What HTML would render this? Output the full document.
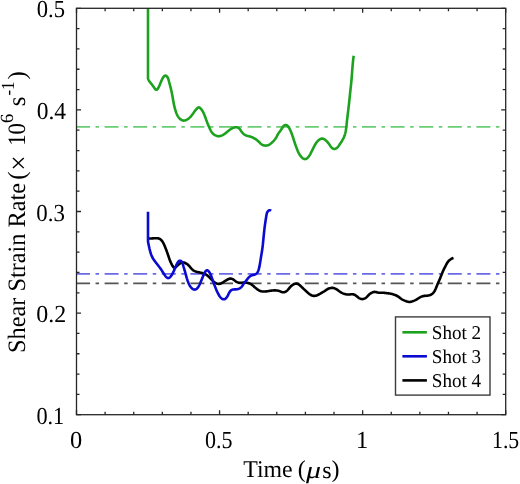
<!DOCTYPE html>
<html><head><meta charset="utf-8"><style>
html,body{margin:0;padding:0;background:#fff;overflow:hidden}
svg{display:block}
text{font-family:"Liberation Serif","Times New Roman",serif;fill:#000;text-rendering:geometricPrecision}
</style></head><body>
<svg width="520" height="484" viewBox="0 0 520 484"><rect width="520" height="484" fill="#fff"/><path d="M76.0,126.8H505.7" stroke="#6acd74" stroke-width="1.8" stroke-dasharray="14 5.55 3.5 5.55" fill="none"/><path d="M76.0,273.9H505.7" stroke="#6a6ae6" stroke-width="1.8" stroke-dasharray="14 5.55 3.5 5.55" fill="none"/><path d="M76.0,283.4H505.7" stroke="#555" stroke-width="1.8" stroke-dasharray="14 5.55 3.5 5.55" fill="none"/><path d="M148.0,8.3L148.0,78.5L148.00,78.50L148.21,79.06 148.44,79.59 148.69,80.09 148.95,80.57 149.23,81.03 149.53,81.47 149.83,81.90 150.15,82.33 150.47,82.75 150.81,83.17 151.16,83.60 151.51,84.04 151.87,84.49 152.24,84.95 152.61,85.44 152.98,85.95 153.36,86.48 153.74,87.05 154.12,87.62 154.49,88.16 154.87,88.67 155.25,89.11 155.62,89.46 155.99,89.70 156.35,89.80 156.71,89.74 157.06,89.54 157.41,89.22 157.74,88.80 158.06,88.31 158.37,87.76 158.67,87.18 158.95,86.60 159.21,86.03 159.47,85.46 159.71,84.91 159.94,84.36 160.17,83.81 160.39,83.27 160.61,82.74 160.83,82.20 161.06,81.66 161.29,81.12 161.52,80.58 161.76,80.05 162.01,79.52 162.27,79.00 162.54,78.50 162.82,78.01 163.11,77.54 163.41,77.09 163.73,76.68 164.06,76.31 164.40,76.00 164.75,75.77 165.11,75.64 165.47,75.60 165.84,75.68 166.20,75.86 166.56,76.12 166.90,76.45 167.22,76.83 167.51,77.26 167.78,77.71 168.01,78.19 168.21,78.68 168.39,79.20 168.56,79.73 168.71,80.28 168.86,80.85 169.01,81.42 169.15,82.02 169.31,82.62 169.47,83.24 169.63,83.87 169.80,84.50 169.96,85.14 170.13,85.79 170.30,86.43 170.47,87.09 170.63,87.74 170.80,88.39 170.96,89.04 171.11,89.69 171.27,90.35 171.42,91.00 171.56,91.67 171.71,92.33 171.85,93.01 171.99,93.69 172.12,94.39 172.25,95.09 172.38,95.81 172.51,96.54 172.64,97.27 172.76,98.02 172.89,98.77 173.02,99.53 173.15,100.29 173.28,101.05 173.42,101.82 173.56,102.59 173.71,103.36 173.87,104.12 174.03,104.89 174.20,105.65 174.37,106.40 174.55,107.15 174.74,107.89 174.93,108.61 175.13,109.33 175.34,110.03 175.55,110.72 175.77,111.40 175.99,112.06 176.22,112.70 176.46,113.32 176.71,113.92 176.97,114.50 177.24,115.06 177.52,115.61 177.81,116.13 178.12,116.63 178.44,117.10 178.78,117.56 179.13,117.99 179.49,118.39 179.87,118.76 180.25,119.11 180.65,119.42 181.05,119.70 181.45,119.95 181.86,120.16 182.28,120.33 182.70,120.46 183.13,120.55 183.57,120.60 184.01,120.60 184.47,120.56 184.93,120.47 185.40,120.34 185.87,120.17 186.33,119.97 186.80,119.74 187.26,119.48 187.72,119.20 188.17,118.89 188.61,118.55 189.05,118.19 189.48,117.81 189.90,117.41 190.32,116.98 190.73,116.52 191.14,116.05 191.55,115.55 191.95,115.03 192.35,114.51 192.74,113.97 193.13,113.43 193.51,112.90 193.88,112.37 194.25,111.85 194.61,111.35 194.97,110.87 195.32,110.42 195.67,109.99 196.00,109.58 196.33,109.21 196.66,108.85 196.97,108.52 197.28,108.22 197.58,107.94 197.88,107.71 198.18,107.53 198.49,107.42 198.82,107.39 199.17,107.47 199.55,107.63 199.93,107.89 200.33,108.21 200.73,108.60 201.12,109.03 201.51,109.51 201.88,110.01 202.23,110.53 202.56,111.07 202.88,111.63 203.18,112.21 203.47,112.80 203.75,113.40 204.02,114.02 204.29,114.65 204.54,115.30 204.80,115.96 205.05,116.63 205.31,117.31 205.56,117.99 205.81,118.68 206.06,119.37 206.30,120.06 206.55,120.74 206.80,121.42 207.05,122.09 207.30,122.75 207.56,123.40 207.81,124.04 208.07,124.66 208.33,125.28 208.59,125.89 208.85,126.49 209.12,127.08 209.38,127.68 209.66,128.27 209.93,128.85 210.21,129.44 210.50,130.03 210.79,130.61 211.10,131.18 211.43,131.73 211.78,132.27 212.15,132.78 212.55,133.26 212.98,133.71 213.45,134.12 213.95,134.49 214.47,134.83 215.01,135.13 215.54,135.39 216.06,135.61 216.55,135.81 217.00,135.97 217.41,136.10 217.76,136.21 218.07,136.28 218.38,136.32 218.69,136.32 219.05,136.29 219.45,136.23 219.91,136.12 220.41,135.99 220.94,135.81 221.49,135.61 222.05,135.37 222.62,135.11 223.18,134.81 223.74,134.48 224.28,134.13 224.81,133.76 225.33,133.38 225.84,132.98 226.34,132.57 226.84,132.16 227.33,131.75 227.81,131.34 228.30,130.94 228.78,130.55 229.26,130.17 229.74,129.81 230.22,129.46 230.69,129.14 231.18,128.83 231.66,128.54 232.15,128.28 232.64,128.04 233.13,127.82 233.63,127.64 234.13,127.48 234.62,127.36 235.11,127.27 235.59,127.22 236.06,127.20 236.53,127.22 236.98,127.29 237.42,127.40 237.85,127.55 238.26,127.76 238.66,128.01 239.04,128.32 239.41,128.68 239.76,129.08 240.10,129.52 240.44,129.98 240.77,130.46 241.11,130.94 241.45,131.43 241.80,131.90 242.16,132.36 242.54,132.80 242.92,133.22 243.31,133.61 243.71,133.97 244.12,134.31 244.54,134.61 244.97,134.88 245.40,135.12 245.84,135.32 246.28,135.50 246.74,135.66 247.20,135.80 247.67,135.93 248.15,136.06 248.64,136.19 249.14,136.32 249.65,136.46 250.17,136.61 250.68,136.77 251.20,136.94 251.72,137.13 252.24,137.33 252.75,137.55 253.26,137.79 253.76,138.05 254.26,138.32 254.75,138.61 255.23,138.91 255.70,139.23 256.17,139.56 256.62,139.89 257.07,140.24 257.50,140.60 257.93,140.96 258.34,141.32 258.74,141.69 259.13,142.05 259.50,142.41 259.87,142.77 260.22,143.11 260.56,143.45 260.90,143.77 261.25,144.07 261.61,144.36 261.99,144.62 262.39,144.85 262.81,145.05 263.26,145.22 263.72,145.36 264.19,145.46 264.68,145.54 265.16,145.59 265.65,145.60 266.13,145.58 266.61,145.53 267.08,145.45 267.54,145.33 268.00,145.19 268.45,145.01 268.90,144.80 269.33,144.56 269.76,144.30 270.19,144.00 270.60,143.69 271.02,143.35 271.43,143.00 271.85,142.63 272.26,142.25 272.67,141.86 273.08,141.46 273.48,141.05 273.88,140.63 274.26,140.20 274.64,139.75 275.00,139.29 275.35,138.82 275.68,138.33 275.98,137.83 276.28,137.32 276.57,136.80 276.85,136.28 277.13,135.75 277.41,135.22 277.70,134.69 278.00,134.17 278.31,133.65 278.64,133.14 278.98,132.64 279.33,132.14 279.68,131.65 280.04,131.15 280.39,130.66 280.74,130.17 281.08,129.67 281.41,129.18 281.74,128.68 282.05,128.19 282.37,127.72 282.68,127.26 282.99,126.83 283.31,126.42 283.64,126.06 283.98,125.74 284.32,125.47 284.68,125.25 285.04,125.10 285.41,125.01 285.78,124.99 286.15,125.05 286.53,125.19 286.90,125.40 287.27,125.67 287.63,126.00 287.99,126.39 288.35,126.83 288.69,127.31 289.03,127.83 289.36,128.38 289.68,128.97 289.99,129.58 290.29,130.21 290.59,130.86 290.87,131.53 291.15,132.20 291.42,132.88 291.68,133.57 291.93,134.25 292.17,134.93 292.41,135.62 292.64,136.31 292.87,137.00 293.10,137.70 293.33,138.41 293.56,139.12 293.79,139.84 294.02,140.57 294.26,141.30 294.51,142.05 294.75,142.80 295.01,143.55 295.26,144.31 295.52,145.07 295.79,145.83 296.06,146.58 296.33,147.33 296.61,148.07 296.89,148.80 297.17,149.52 297.46,150.23 297.75,150.93 298.05,151.60 298.35,152.27 298.67,152.92 299.00,153.55 299.35,154.16 299.71,154.76 300.09,155.34 300.49,155.89 300.91,156.43 301.35,156.95 301.81,157.43 302.29,157.86 302.78,158.25 303.28,158.58 303.78,158.83 304.29,159.01 304.79,159.09 305.28,159.08 305.77,158.97 306.25,158.78 306.71,158.51 307.15,158.18 307.58,157.80 307.99,157.39 308.38,156.95 308.75,156.49 309.09,156.02 309.41,155.54 309.72,155.05 310.02,154.55 310.31,154.03 310.59,153.50 310.87,152.95 311.15,152.39 311.44,151.82 311.73,151.23 312.03,150.63 312.32,150.03 312.62,149.42 312.92,148.82 313.22,148.22 313.52,147.63 313.81,147.06 314.10,146.49 314.39,145.95 314.68,145.43 314.96,144.92 315.25,144.43 315.54,143.95 315.84,143.49 316.14,143.04 316.46,142.60 316.78,142.16 317.12,141.74 317.47,141.33 317.84,140.93 318.21,140.56 318.60,140.20 318.99,139.87 319.39,139.57 319.80,139.31 320.22,139.07 320.65,138.88 321.08,138.73 321.52,138.63 321.96,138.59 322.41,138.60 322.85,138.67 323.30,138.81 323.75,138.99 324.20,139.22 324.64,139.49 325.08,139.80 325.52,140.15 325.95,140.52 326.37,140.91 326.78,141.32 327.18,141.74 327.57,142.18 327.95,142.63 328.31,143.08 328.66,143.54 328.99,143.99 329.31,144.44 329.61,144.89 329.91,145.33 330.20,145.76 330.50,146.18 330.80,146.59 331.12,146.99 331.47,147.37 331.83,147.74 332.21,148.08 332.62,148.38 333.03,148.63 333.46,148.83 333.90,148.95 334.35,149.00 334.80,148.96 335.25,148.85 335.69,148.67 336.12,148.43 336.54,148.15 336.94,147.83 337.32,147.49 337.67,147.13 337.99,146.75 338.30,146.37 338.60,145.97 338.89,145.56 339.18,145.13 339.47,144.70 339.76,144.26 340.06,143.81 340.37,143.35 340.68,142.89 340.99,142.41 341.30,141.93 341.62,141.44 341.93,140.95 342.23,140.45 342.53,139.94 342.83,139.42 343.11,138.90 343.39,138.36 343.65,137.81 343.91,137.25 344.15,136.68 344.39,136.09 344.60,135.49 344.81,134.87 345.00,134.23 345.18,133.58 345.34,132.92 345.49,132.26 345.64,131.59 345.77,130.92 345.89,130.24 346.00,129.58 346.10,128.91 346.19,128.26 346.28,127.61 346.35,126.97 346.43,126.33 346.50,125.69 346.56,125.06 346.63,124.42 346.69,123.78 346.76,123.13 346.82,122.48 346.89,121.82 346.96,121.15 347.03,120.48 347.11,119.80 347.18,119.11 347.26,118.41 347.34,117.70 347.43,116.99 347.51,116.27 347.60,115.54 347.68,114.80 347.77,114.05 347.86,113.30 347.95,112.55 348.05,111.80 348.14,111.04 348.23,110.29 348.32,109.55 348.41,108.81 348.50,108.07 348.58,107.35 348.67,106.64 348.75,105.94 348.83,105.24 348.91,104.55 348.98,103.87 349.06,103.18 349.13,102.50 349.21,101.81 349.28,101.12 349.36,100.42 349.43,99.71 349.50,98.99 349.58,98.26 349.65,97.52 349.73,96.77 349.81,96.01 349.89,95.25 349.97,94.47 350.05,93.69 350.13,92.90 350.21,92.11 350.30,91.31 350.39,90.50 350.48,89.69 350.57,88.87 350.66,88.05 350.75,87.23 350.84,86.40 350.93,85.57 351.02,84.73 351.11,83.89 351.20,83.05 351.28,82.21 351.37,81.36 351.44,80.52 351.52,79.67 351.59,78.83 351.66,77.98 351.73,77.14 351.79,76.30 351.85,75.46 351.91,74.63 351.97,73.81 352.03,72.99 352.09,72.17 352.15,71.37 352.21,70.57 352.27,69.78 352.33,69.00 352.39,68.24 352.45,67.48 352.51,66.72 352.57,65.98 352.64,65.24 352.70,64.52 352.77,63.80 352.83,63.09 352.90,62.38 352.97,61.69 353.04,60.99 353.12,60.31 353.19,59.63 353.27,58.96 353.35,58.30 353.44,57.64 353.52,56.99 353.61,56.34 353.70,55.70" fill="none" stroke="#1ca21e" stroke-width="2.6" stroke-linejoin="round"/><path d="M148.00,238.30L148.60,238.38 149.22,238.43 149.84,238.46 150.48,238.46 151.12,238.45 151.76,238.43 152.41,238.39 153.05,238.36 153.68,238.31 154.31,238.27 154.92,238.24 155.52,238.21 156.11,238.20 156.67,238.20 157.21,238.23 157.74,238.28 158.25,238.36 158.74,238.49 159.22,238.67 159.69,238.89 160.14,239.17 160.58,239.49 161.00,239.85 161.40,240.25 161.78,240.67 162.13,241.12 162.46,241.58 162.78,242.08 163.08,242.59 163.37,243.13 163.65,243.69 163.93,244.27 164.21,244.88 164.48,245.50 164.76,246.15 165.03,246.81 165.30,247.48 165.57,248.16 165.84,248.85 166.11,249.54 166.37,250.24 166.63,250.94 166.89,251.64 167.15,252.35 167.40,253.06 167.65,253.78 167.90,254.51 168.14,255.23 168.39,255.96 168.63,256.69 168.87,257.42 169.11,258.14 169.35,258.85 169.60,259.54 169.85,260.22 170.11,260.88 170.38,261.52 170.65,262.14 170.93,262.75 171.22,263.35 171.51,263.95 171.82,264.55 172.13,265.15 172.45,265.75 172.78,266.33 173.13,266.84 173.49,267.27 173.88,267.56 174.30,267.70 174.75,267.66 175.21,267.46 175.69,267.15 176.18,266.75 176.66,266.31 177.14,265.86 177.59,265.43 178.03,265.04 178.46,264.67 178.88,264.32 179.29,263.99 179.71,263.67 180.13,263.36 180.56,263.08 181.00,262.82 181.47,262.61 181.95,262.46 182.45,262.39 182.98,262.39 183.52,262.46 184.07,262.59 184.63,262.77 185.18,263.00 185.71,263.26 186.24,263.55 186.74,263.87 187.24,264.22 187.72,264.60 188.20,265.01 188.67,265.46 189.14,265.95 189.60,266.47 190.06,267.01 190.53,267.56 190.99,268.10 191.45,268.63 191.92,269.13 192.38,269.58 192.85,269.99 193.33,270.35 193.83,270.66 194.34,270.94 194.87,271.19 195.43,271.40 196.02,271.60 196.64,271.78 197.28,271.95 197.93,272.11 198.59,272.25 199.25,272.39 199.90,272.52 200.52,272.65 201.13,272.78 201.72,272.91 202.29,273.05 202.85,273.21 203.40,273.38 203.95,273.58 204.50,273.80 205.04,274.06 205.59,274.34 206.12,274.65 206.66,274.99 207.18,275.37 207.69,275.78 208.19,276.21 208.68,276.68 209.17,277.16 209.65,277.66 210.12,278.17 210.60,278.67 211.08,279.17 211.56,279.66 212.04,280.13 212.53,280.59 213.03,281.03 213.53,281.45 214.04,281.85 214.57,282.24 215.10,282.60 215.64,282.93 216.19,283.23 216.74,283.49 217.30,283.69 217.86,283.83 218.43,283.90 218.99,283.90 219.56,283.83 220.12,283.69 220.69,283.50 221.25,283.27 221.82,283.00 222.38,282.69 222.95,282.36 223.52,282.02 224.09,281.65 224.66,281.28 225.24,280.91 225.82,280.54 226.41,280.17 226.99,279.82 227.59,279.50 228.17,279.21 228.76,278.96 229.34,278.77 229.91,278.64 230.46,278.58 231.01,278.61 231.54,278.70 232.06,278.87 232.57,279.09 233.08,279.36 233.58,279.68 234.07,280.04 234.56,280.42 235.05,280.81 235.55,281.19 236.04,281.55 236.55,281.87 237.06,282.14 237.58,282.36 238.11,282.53 238.66,282.66 239.21,282.75 239.78,282.79 240.37,282.81 240.97,282.79 241.57,282.76 242.19,282.71 242.82,282.66 243.45,282.62 244.08,282.60 244.71,282.60 245.34,282.62 245.96,282.66 246.58,282.73 247.18,282.82 247.77,282.93 248.35,283.06 248.90,283.22 249.44,283.40 249.97,283.61 250.49,283.86 250.99,284.14 251.49,284.46 251.99,284.83 252.48,285.22 252.96,285.64 253.45,286.08 253.93,286.52 254.42,286.96 254.91,287.39 255.40,287.81 255.90,288.21 256.39,288.59 256.88,288.96 257.38,289.31 257.86,289.64 258.35,289.96 258.83,290.26 259.32,290.54 259.83,290.79 260.36,291.01 260.94,291.19 261.55,291.33 262.22,291.43 262.92,291.48 263.64,291.50 264.38,291.50 265.12,291.46 265.85,291.41 266.56,291.34 267.24,291.26 267.88,291.17 268.49,291.07 269.07,290.98 269.65,290.88 270.21,290.79 270.78,290.70 271.35,290.63 271.93,290.56 272.52,290.50 273.11,290.46 273.71,290.42 274.31,290.40 274.92,290.40 275.53,290.41 276.14,290.44 276.75,290.49 277.34,290.57 277.93,290.67 278.50,290.80 279.05,290.96 279.58,291.14 280.10,291.34 280.60,291.54 281.08,291.74 281.55,291.92 282.00,292.08 282.45,292.20 282.90,292.29 283.36,292.32 283.83,292.30 284.33,292.20 284.84,292.04 285.36,291.82 285.87,291.54 286.38,291.20 286.88,290.82 287.35,290.39 287.80,289.92 288.24,289.43 288.67,288.92 289.09,288.40 289.51,287.89 289.93,287.39 290.35,286.91 290.79,286.45 291.23,286.02 291.69,285.62 292.17,285.24 292.66,284.88 293.17,284.56 293.71,284.26 294.26,283.99 294.83,283.78 295.41,283.64 295.99,283.57 296.57,283.58 297.14,283.70 297.71,283.90 298.27,284.18 298.81,284.52 299.35,284.91 299.86,285.33 300.37,285.77 300.85,286.21 301.32,286.66 301.77,287.10 302.22,287.54 302.66,287.98 303.10,288.41 303.54,288.83 303.98,289.25 304.43,289.66 304.88,290.06 305.34,290.46 305.80,290.87 306.25,291.28 306.71,291.69 307.17,292.12 307.63,292.55 308.09,292.96 308.55,293.37 309.02,293.76 309.49,294.12 309.98,294.45 310.46,294.75 310.94,295.02 311.42,295.25 311.87,295.44 312.31,295.60 312.73,295.73 313.13,295.82 313.54,295.88 313.96,295.90 314.41,295.89 314.90,295.84 315.41,295.76 315.95,295.64 316.50,295.48 317.06,295.29 317.63,295.06 318.19,294.80 318.75,294.52 319.31,294.21 319.87,293.89 320.43,293.55 321.00,293.22 321.56,292.89 322.13,292.56 322.69,292.23 323.25,291.90 323.80,291.57 324.33,291.24 324.85,290.90 325.34,290.56 325.83,290.22 326.30,289.88 326.78,289.56 327.26,289.25 327.77,288.96 328.30,288.71 328.85,288.49 329.42,288.31 330.00,288.16 330.56,288.04 331.09,287.95 331.59,287.89 332.04,287.86 332.47,287.86 332.88,287.89 333.29,287.96 333.73,288.06 334.19,288.19 334.67,288.36 335.16,288.57 335.65,288.80 336.15,289.07 336.63,289.36 337.11,289.68 337.58,290.01 338.05,290.36 338.53,290.71 339.00,291.06 339.48,291.40 339.97,291.73 340.46,292.05 340.95,292.36 341.45,292.65 341.95,292.92 342.45,293.17 342.95,293.40 343.46,293.61 343.97,293.80 344.49,293.97 345.03,294.11 345.58,294.24 346.14,294.34 346.72,294.43 347.31,294.49 347.91,294.52 348.52,294.53 349.13,294.50 349.74,294.45 350.36,294.39 350.97,294.32 351.57,294.27 352.17,294.24 352.74,294.26 353.30,294.34 353.84,294.48 354.37,294.68 354.87,294.93 355.36,295.22 355.85,295.54 356.32,295.89 356.78,296.26 357.24,296.63 357.71,297.01 358.17,297.38 358.64,297.73 359.12,298.05 359.62,298.34 360.12,298.60 360.64,298.80 361.17,298.96 361.70,299.06 362.24,299.10 362.79,299.07 363.33,298.98 363.87,298.84 364.39,298.64 364.90,298.40 365.37,298.12 365.82,297.80 366.25,297.46 366.65,297.09 367.04,296.70 367.42,296.30 367.80,295.90 368.18,295.50 368.56,295.10 368.95,294.72 369.33,294.36 369.72,294.03 370.09,293.73 370.47,293.47 370.84,293.24 371.23,293.03 371.63,292.83 372.06,292.63 372.51,292.42 372.98,292.23 373.47,292.07 373.98,291.96 374.51,291.90 375.05,291.92 375.60,292.01 376.16,292.13 376.73,292.28 377.30,292.43 377.87,292.56 378.45,292.65 379.03,292.70 379.61,292.72 380.20,292.72 380.79,292.71 381.40,292.70 382.01,292.70 382.64,292.72 383.27,292.76 383.92,292.82 384.57,292.88 385.23,292.95 385.90,293.03 386.56,293.11 387.23,293.19 387.90,293.27 388.56,293.35 389.22,293.44 389.87,293.54 390.51,293.66 391.14,293.79 391.76,293.93 392.36,294.10 392.95,294.27 393.52,294.46 394.09,294.66 394.64,294.86 395.18,295.07 395.70,295.28 396.22,295.50 396.73,295.73 397.22,295.99 397.72,296.26 398.20,296.57 398.68,296.90 399.16,297.26 399.64,297.63 400.11,298.00 400.59,298.36 401.07,298.71 401.56,299.04 402.05,299.34 402.55,299.62 403.06,299.88 403.58,300.13 404.11,300.37 404.65,300.61 405.20,300.84 405.75,301.05 406.30,301.26 406.83,301.44 407.35,301.60 407.83,301.73 408.29,301.84 408.74,301.91 409.18,301.94 409.65,301.93 410.14,301.88 410.67,301.79 411.23,301.66 411.82,301.50 412.42,301.31 413.03,301.10 413.63,300.87 414.23,300.62 414.81,300.36 415.38,300.09 415.95,299.80 416.50,299.50 417.05,299.19 417.60,298.86 418.14,298.52 418.69,298.17 419.23,297.82 419.78,297.49 420.33,297.17 420.88,296.88 421.45,296.62 422.02,296.41 422.61,296.24 423.20,296.10 423.79,295.99 424.39,295.91 425.00,295.84 425.60,295.78 426.20,295.73 426.80,295.67 427.40,295.61 427.99,295.53 428.56,295.44 429.13,295.32 429.69,295.16 430.23,294.98 430.75,294.75 431.25,294.50 431.74,294.21 432.19,293.88 432.63,293.52 433.04,293.13 433.42,292.70 433.78,292.24 434.12,291.77 434.44,291.26 434.74,290.74 435.03,290.21 435.30,289.66 435.55,289.10 435.80,288.53 436.03,287.96 436.26,287.39 436.49,286.82 436.71,286.26 436.94,285.69 437.16,285.13 437.39,284.57 437.62,284.01 437.86,283.46 438.10,282.91 438.35,282.36 438.60,281.81 438.86,281.25 439.12,280.67 439.38,280.09 439.64,279.48 439.90,278.86 440.16,278.22 440.42,277.57 440.68,276.90 440.94,276.23 441.20,275.56 441.47,274.88 441.73,274.21 442.00,273.54 442.27,272.87 442.54,272.21 442.81,271.56 443.09,270.92 443.37,270.29 443.66,269.68 443.95,269.08 444.24,268.50 444.53,267.93 444.83,267.36 445.13,266.78 445.43,266.21 445.74,265.63 446.04,265.03 446.35,264.44 446.67,263.84 446.99,263.26 447.33,262.69 447.69,262.15 448.08,261.63 448.48,261.15 448.91,260.70 449.35,260.29 449.81,259.92 450.28,259.57 450.76,259.25 451.23,258.96 451.71,258.70 452.17,258.47 452.63,258.25 453.07,258.07 453.50,257.90" fill="none" stroke="#000" stroke-width="2.6" stroke-linejoin="round"/><path d="M148.0,211.8L148.0,241.6L148.00,241.60L148.12,242.20 148.24,242.79 148.36,243.39 148.48,243.98 148.60,244.58 148.72,245.17 148.85,245.77 148.97,246.37 149.10,246.96 149.23,247.56 149.37,248.16 149.50,248.75 149.65,249.35 149.79,249.95 149.95,250.56 150.11,251.16 150.27,251.76 150.44,252.37 150.62,252.97 150.81,253.57 151.01,254.16 151.22,254.75 151.44,255.32 151.67,255.88 151.91,256.43 152.17,256.96 152.44,257.48 152.73,257.98 153.03,258.48 153.34,258.97 153.66,259.47 153.99,259.96 154.34,260.46 154.70,260.96 155.07,261.47 155.44,261.98 155.83,262.50 156.22,263.01 156.61,263.53 157.00,264.04 157.40,264.54 157.79,265.04 158.18,265.54 158.57,266.03 158.96,266.51 159.34,267.00 159.71,267.50 160.09,267.99 160.45,268.50 160.81,269.02 161.17,269.55 161.51,270.08 161.86,270.63 162.19,271.17 162.53,271.72 162.86,272.26 163.19,272.80 163.52,273.32 163.85,273.83 164.18,274.33 164.51,274.80 164.85,275.26 165.18,275.70 165.51,276.12 165.85,276.52 166.19,276.89 166.53,277.24 166.88,277.54 167.23,277.80 167.59,277.98 167.96,278.08 168.34,278.09 168.73,277.99 169.13,277.81 169.53,277.55 169.92,277.22 170.31,276.84 170.69,276.42 171.04,275.97 171.39,275.50 171.72,275.01 172.03,274.50 172.33,273.97 172.62,273.44 172.90,272.90 173.17,272.35 173.44,271.81 173.70,271.26 173.95,270.71 174.19,270.17 174.44,269.62 174.67,269.06 174.91,268.51 175.14,267.95 175.37,267.39 175.60,266.82 175.83,266.26 176.07,265.69 176.32,265.13 176.58,264.58 176.85,264.03 177.14,263.48 177.45,262.95 177.77,262.44 178.12,261.96 178.48,261.54 178.85,261.18 179.23,260.91 179.62,260.74 180.02,260.69 180.41,260.75 180.80,260.92 181.17,261.17 181.51,261.51 181.83,261.90 182.11,262.35 182.36,262.83 182.58,263.35 182.78,263.91 182.96,264.49 183.12,265.09 183.29,265.70 183.45,266.33 183.63,266.96 183.81,267.60 183.99,268.24 184.18,268.88 184.38,269.52 184.57,270.17 184.76,270.81 184.96,271.46 185.14,272.10 185.32,272.74 185.50,273.38 185.67,274.02 185.85,274.66 186.02,275.30 186.19,275.94 186.37,276.58 186.55,277.23 186.74,277.88 186.93,278.54 187.14,279.19 187.35,279.85 187.57,280.51 187.80,281.15 188.03,281.79 188.27,282.42 188.52,283.03 188.78,283.63 189.04,284.20 189.31,284.75 189.59,285.28 189.88,285.79 190.19,286.28 190.52,286.75 190.87,287.21 191.25,287.64 191.65,288.05 192.08,288.44 192.53,288.79 193.00,289.10 193.48,289.34 193.96,289.51 194.45,289.59 194.93,289.58 195.41,289.48 195.88,289.28 196.33,289.01 196.77,288.68 197.19,288.29 197.58,287.86 197.95,287.40 198.29,286.92 198.61,286.41 198.91,285.88 199.20,285.33 199.48,284.76 199.75,284.17 200.01,283.56 200.28,282.94 200.55,282.31 200.83,281.66 201.11,281.01 201.39,280.35 201.67,279.69 201.94,279.03 202.22,278.37 202.48,277.72 202.75,277.08 203.00,276.45 203.24,275.84 203.48,275.24 203.72,274.66 203.97,274.10 204.22,273.56 204.48,273.03 204.75,272.53 205.04,272.04 205.34,271.58 205.67,271.17 206.01,270.81 206.36,270.54 206.73,270.36 207.10,270.30 207.48,270.37 207.86,270.55 208.24,270.84 208.62,271.22 208.98,271.67 209.34,272.18 209.67,272.73 209.99,273.30 210.30,273.91 210.59,274.53 210.86,275.17 211.13,275.83 211.38,276.51 211.63,277.19 211.88,277.89 212.12,278.58 212.37,279.28 212.61,279.98 212.86,280.68 213.11,281.39 213.36,282.09 213.61,282.80 213.87,283.51 214.13,284.22 214.39,284.93 214.67,285.65 214.94,286.37 215.22,287.09 215.51,287.81 215.81,288.53 216.10,289.25 216.41,289.96 216.71,290.66 217.02,291.35 217.33,292.03 217.65,292.69 217.97,293.34 218.29,293.97 218.62,294.58 218.95,295.16 219.29,295.72 219.64,296.26 220.01,296.77 220.39,297.24 220.79,297.69 221.21,298.09 221.64,298.46 222.09,298.78 222.55,299.03 223.02,299.21 223.49,299.31 223.96,299.32 224.43,299.22 224.89,299.03 225.33,298.75 225.76,298.40 226.17,298.00 226.56,297.55 226.91,297.08 227.24,296.59 227.53,296.08 227.80,295.58 228.05,295.07 228.29,294.56 228.53,294.05 228.78,293.54 229.03,293.03 229.30,292.54 229.59,292.05 229.91,291.59 230.25,291.16 230.61,290.76 230.99,290.41 231.40,290.12 231.84,289.88 232.30,289.71 232.78,289.59 233.27,289.51 233.78,289.45 234.29,289.42 234.80,289.40 235.31,289.38 235.81,289.36 236.31,289.33 236.80,289.28 237.29,289.21 237.77,289.11 238.24,288.99 238.71,288.83 239.16,288.64 239.61,288.41 240.04,288.15 240.45,287.86 240.85,287.53 241.23,287.17 241.59,286.78 241.94,286.36 242.27,285.92 242.60,285.46 242.92,285.00 243.24,284.53 243.56,284.06 243.88,283.60 244.21,283.15 244.55,282.71 244.88,282.27 245.22,281.84 245.56,281.40 245.89,280.97 246.23,280.53 246.56,280.10 246.89,279.66 247.22,279.23 247.56,278.81 247.90,278.39 248.25,277.98 248.62,277.58 248.99,277.20 249.38,276.84 249.78,276.50 250.19,276.19 250.61,275.91 251.04,275.67 251.47,275.47 251.91,275.32 252.35,275.20 252.79,275.10 253.23,275.00 253.67,274.91 254.11,274.80 254.54,274.66 254.96,274.50 255.38,274.30 255.78,274.06 256.16,273.79 256.53,273.47 256.87,273.11 257.19,272.71 257.48,272.27 257.76,271.79 258.01,271.28 258.25,270.75 258.46,270.19 258.66,269.61 258.85,269.02 259.02,268.41 259.17,267.78 259.32,267.14 259.45,266.49 259.58,265.82 259.70,265.14 259.82,264.45 259.94,263.75 260.06,263.03 260.18,262.31 260.29,261.58 260.41,260.84 260.53,260.10 260.64,259.35 260.76,258.60 260.88,257.85 261.00,257.09 261.13,256.33 261.25,255.58 261.38,254.82 261.51,254.06 261.63,253.29 261.76,252.53 261.89,251.76 262.01,250.98 262.13,250.20 262.25,249.40 262.36,248.60 262.47,247.79 262.57,246.98 262.67,246.15 262.76,245.32 262.86,244.49 262.94,243.65 263.03,242.82 263.11,241.98 263.19,241.15 263.27,240.33 263.35,239.51 263.43,238.70 263.50,237.90 263.58,237.11 263.66,236.33 263.73,235.55 263.81,234.79 263.88,234.03 263.96,233.27 264.04,232.52 264.12,231.78 264.20,231.04 264.28,230.31 264.36,229.58 264.44,228.85 264.53,228.14 264.61,227.44 264.70,226.75 264.79,226.08 264.87,225.43 264.96,224.79 265.05,224.18 265.13,223.58 265.22,223.00 265.31,222.43 265.40,221.86 265.48,221.30 265.57,220.72 265.66,220.14 265.75,219.54 265.85,218.92 265.94,218.30 266.04,217.68 266.13,217.05 266.23,216.44 266.33,215.85 266.43,215.27 266.53,214.73 266.64,214.21 266.75,213.73 266.88,213.27 267.02,212.84 267.19,212.43 267.38,212.03 267.61,211.66 267.86,211.31 268.14,211.00 268.45,210.73 268.78,210.51 269.13,210.35 269.50,210.26 269.89,210.25 270.28,210.33 270.69,210.51 271.10,210.80" fill="none" stroke="#0b0bd0" stroke-width="2.6" stroke-linejoin="round"/><rect x="76.5" y="8.3" width="429.20" height="406.40" fill="none" stroke="#262626" stroke-width="1.3"/><path d="M76.50,414.7v-4.5M76.50,8.3v4.5M105.11,414.7v-3M105.11,8.3v3M133.73,414.7v-3M133.73,8.3v3M162.34,414.7v-3M162.34,8.3v3M190.95,414.7v-3M190.95,8.3v3M219.57,414.7v-4.5M219.57,8.3v4.5M248.18,414.7v-3M248.18,8.3v3M276.79,414.7v-3M276.79,8.3v3M305.41,414.7v-3M305.41,8.3v3M334.02,414.7v-3M334.02,8.3v3M362.63,414.7v-4.5M362.63,8.3v4.5M391.25,414.7v-3M391.25,8.3v3M419.86,414.7v-3M419.86,8.3v3M448.47,414.7v-3M448.47,8.3v3M477.09,414.7v-3M477.09,8.3v3M505.70,414.7v-4.5M505.70,8.3v4.5M76.5,414.70h4.5M505.7,414.70h-4.5M76.5,394.38h3M505.7,394.38h-3M76.5,374.06h3M505.7,374.06h-3M76.5,353.74h3M505.7,353.74h-3M76.5,333.42h3M505.7,333.42h-3M76.5,313.10h4.5M505.7,313.10h-4.5M76.5,292.78h3M505.7,292.78h-3M76.5,272.46h3M505.7,272.46h-3M76.5,252.14h3M505.7,252.14h-3M76.5,231.82h3M505.7,231.82h-3M76.5,211.50h4.5M505.7,211.50h-4.5M76.5,191.18h3M505.7,191.18h-3M76.5,170.86h3M505.7,170.86h-3M76.5,150.54h3M505.7,150.54h-3M76.5,130.22h3M505.7,130.22h-3M76.5,109.90h4.5M505.7,109.90h-4.5M76.5,89.58h3M505.7,89.58h-3M76.5,69.26h3M505.7,69.26h-3M76.5,48.94h3M505.7,48.94h-3M76.5,28.62h3M505.7,28.62h-3M76.5,8.30h4.5M505.7,8.30h-4.5" stroke="#262626" stroke-width="1.3" fill="none"/><rect x="395.5" y="316.9" width="94.5" height="78.2" fill="#fff" stroke="#3c3c3c" stroke-width="1.4"/><line x1="402.4" y1="332.3" x2="426.9" y2="332.3" stroke="#1ca21e" stroke-width="2.6"/><text transform="translate(431.82,338.80) scale(0.9792,1)" font-size="19.5">Shot 2</text><line x1="402.4" y1="356.3" x2="426.9" y2="356.3" stroke="#0b0bd0" stroke-width="2.6"/><text transform="translate(431.82,362.65) scale(0.9792,1)" font-size="19.5">Shot 3</text><line x1="402.4" y1="380.4" x2="426.9" y2="380.4" stroke="#000" stroke-width="2.6"/><text transform="translate(431.82,386.50) scale(0.9792,1)" font-size="19.5">Shot 4</text><text transform="translate(36.68,17.05) scale(0.9241,1)" font-size="24.5">0.5</text><text transform="translate(36.64,118.95) scale(0.9586,1)" font-size="24.5">0.4</text><text transform="translate(36.37,220.60) scale(0.9345,1)" font-size="24.5">0.3</text><text transform="translate(36.32,322.25) scale(0.9786,1)" font-size="24.5">0.2</text><text transform="translate(36.39,424.15) scale(0.9107,1)" font-size="24.5">0.1</text><text transform="translate(70.10,447.70) scale(0.995,1)" font-size="24.5">0</text><text transform="translate(204.90,447.70) scale(0.9,1)" font-size="24.5">0.5</text><text transform="translate(355.95,447.70)" font-size="24.5">1</text><text transform="translate(492.02,447.75) scale(0.8893,1)" font-size="24.5">1.5</text><text transform="translate(243.20,477.40) scale(0.9918,1)" font-size="24">Time</text><text transform="translate(297.65,477.45)" font-size="24">(</text><text transform="translate(305.90,477.60) scale(1.2455,1)" font-size="24" style="font-style:italic">μ</text><text transform="translate(322.25,478.25)" font-size="24">s</text><text transform="translate(331.45,477.45)" font-size="24">)</text><text transform="translate(25.05,352.94) rotate(-90) scale(0.9709,1)" font-size="25">Shear Strain Rate</text><text transform="translate(24.85,179.65) rotate(-90)" font-size="25">(</text><text transform="translate(28.30,170.78) rotate(-90) scale(0.9417,1)" font-size="29">×</text><text transform="translate(25.05,145.81) rotate(-90) scale(0.9045,1)" font-size="25">10</text><text transform="translate(13.40,122.90) rotate(-90)" font-size="18.5">6</text><text transform="translate(25.20,106.15) rotate(-90)" font-size="25">s</text><text transform="translate(13.55,95.61) rotate(-90) scale(0.9077,1)" font-size="18.5">-1</text><text transform="translate(24.75,79.40) rotate(-90)" font-size="25">)</text></svg>
</body></html>
